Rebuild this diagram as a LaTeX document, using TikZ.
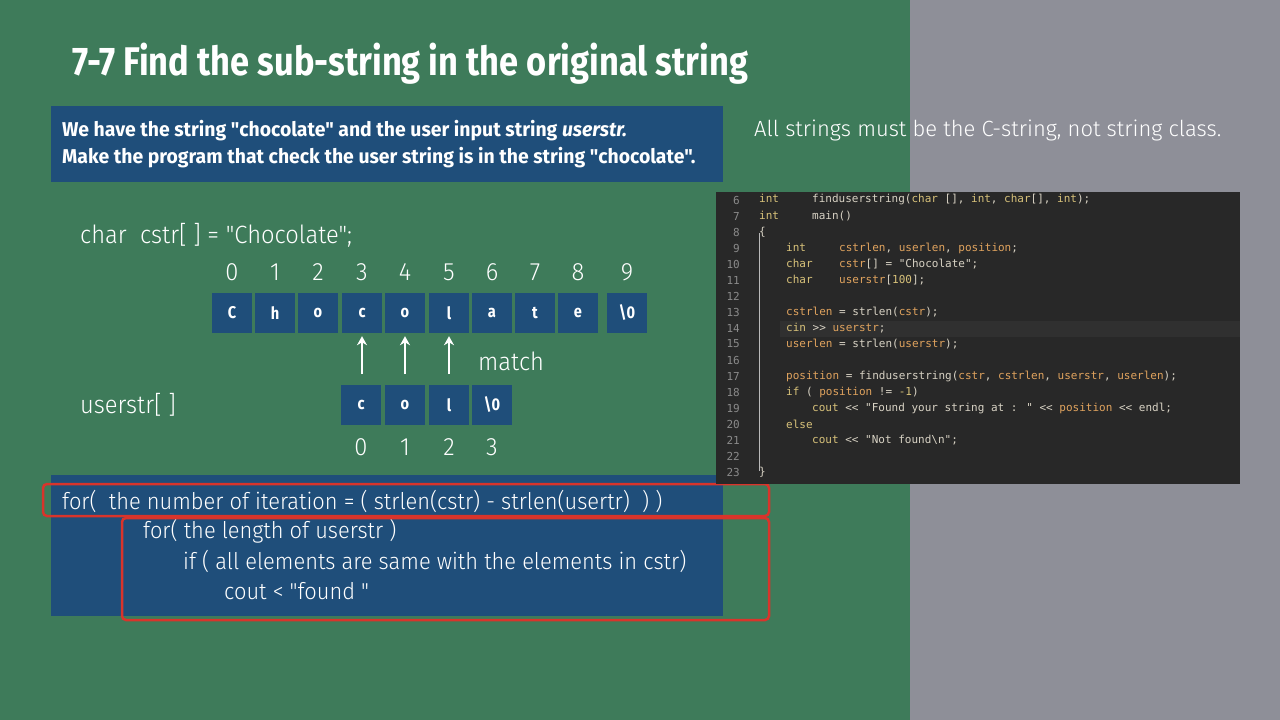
\documentclass[tikz,border=0pt]{standalone}
\usetikzlibrary{arrows.meta}
\usepackage{fontspec}
\setmainfont{Fira Sans}
\newfontfamily\cond[FakeStretch=0.86]{Fira Sans}
\newfontfamily\condb[FakeStretch=0.97]{Fira Sans}
\newfontfamily\light[FakeStretch=0.95]{Fira Sans Light}
\newfontfamily\lightw{Fira Sans Light}
\newfontfamily\codef{DejaVu Sans Mono}
\definecolor{bgg}{HTML}{3E7B5A}
\definecolor{bgr}{HTML}{8E8F98}
\definecolor{bl}{HTML}{1F4E7A}
\definecolor{cd}{HTML}{282828}
\definecolor{kw}{HTML}{D8C27A}
\definecolor{idn}{HTML}{E0A35E}
\definecolor{pl}{HTML}{D8D2C4}
\definecolor{ln}{HTML}{8A8A8A}
\definecolor{rd}{HTML}{D9342B}
\tikzset{x=1pt,y=-1pt,
 cell/.style={fill=bl,text=white,minimum width=40pt,minimum height=40pt,font=\cond\bfseries\fontsize{17}{17}\selectfont,inner sep=0},
 idx/.style={text=white,font=\light\fontsize{25}{25}\selectfont},
 wt/.style={text=white,anchor=west,inner sep=0},
 cl/.style={anchor=west,inner sep=0,font=\codef\fontsize{11}{11}\selectfont,text=pl},
 lnum/.style={anchor=east,inner sep=0,font=\codef\fontsize{11}{11}\selectfont,text=ln}}
\begin{document}
\begin{tikzpicture}
\useasboundingbox (0,0) rectangle (1280,720);
\fill[bgg] (0,0) rectangle (910,720);
\fill[bgr] (910,0) rectangle (1280,720);
\node[wt,font=\cond\bfseries\fontsize{40}{40}\selectfont] (title) at (72,64) {7-7 Find the sub-string in the original string};
\fill[bl] (51,106) rectangle (723,182);
\node[wt,font=\condb\bfseries\fontsize{20}{20}\selectfont] (t1) at (62,131) {We have the string "chocolate" and the user input string \textit{userstr.}};
\node[wt,font=\condb\bfseries\fontsize{20}{20}\selectfont] (t2) at (62,158) {Make the program that check the user string is in the string "chocolate".};
\node[wt,font=\lightw\fontsize{22}{22}\selectfont,text=white] (note) at (754,130) {All strings must be the C-string, not string class.};
\node[wt,font=\light\fontsize{25}{25}\selectfont] (decl) at (80,235) {char\ \ cstr[ ] = "Chocolate";};
\foreach \x/\c/\i [count=\k from 0] in {232/C/0,275/h/1,318/o/2,362/c/3,405/o/4,449/l/5,492/a/6,535/t/7,578/e/8,627/\textbackslash0/9}{
 \node[cell] (c\k) at (\x,313) {\c};
 \node[idx] (i\k) at (\x,272) {\i};
}
\foreach \x/\c/\i [count=\k from 0] in {361/c/0,405/o/1,449/l/2,492/\textbackslash0/3}{
 \node[cell] (u\k) at (\x,405) {\c};
 \node[idx] (j\k) at (\x,447) {\i};
}
\foreach \k in {3,4,5}{
 \draw[white,line width=2.5pt,-{Stealth[length=9pt,width=10pt]}] ([yshift=-41pt]c\k.south) -- ([yshift=-3pt]c\k.south);
}
\node[wt,font=\light\fontsize{25}{25}\selectfont] (match) at (478,361) {match};
\node[wt,font=\light\fontsize{25}{25}\selectfont] (us) at (80,405) {userstr[ ]};
\fill[bl] (51,475) rectangle (723,616);
\node[wt,font=\light\fontsize{23}{23}\selectfont] (f1) at (62,501) {for(\ \ the number of iteration = ( strlen(cstr) - strlen(usertr)\ \ ) )};
\node[wt,font=\light\fontsize{23}{23}\selectfont] (f2) at (143,531) {for( the length of userstr )};
\node[wt,font=\light\fontsize{23}{23}\selectfont] (f3) at (183,561) {if ( all elements are same with the elements in cstr)};
\node[wt,font=\light\fontsize{23}{23}\selectfont] (f4) at (224,591) {cout < "found "};
\draw[rd,line width=2.5pt,rounded corners=4pt] (43,484) rectangle (769,516);
\draw[rd,line width=2.5pt,rounded corners=4pt] (122,518) rectangle (769,620);
\fill[cd] (716,192) rectangle (1240,484);
\fill[white,opacity=0.04] (780,321) rectangle (1240,337);
\draw[ln!60] (759,233) -- (759,471);
\foreach \n [count=\r from 0] in {6,...,23}{ \node[lnum] (n\n) at (740,200+16*\r) {\n}; }
\node[cl] (l6) at (759,200) {\textcolor{kw}{int}\ \ \ \ \ finduserstring(\textcolor{kw}{char} [], \textcolor{kw}{int}, \textcolor{kw}{char}[], \textcolor{kw}{int});};
\node[cl] (l7) at (759,216) {\textcolor{kw}{int}\ \ \ \ \ main()};
\node[cl] (l8) at (759,232) {\{};
\node[cl] (l9) at (786,248) {\textcolor{kw}{int}\ \ \ \ \ \textcolor{idn}{cstrlen}, \textcolor{idn}{userlen}, \textcolor{idn}{position};};
\node[cl] (l10) at (786,264) {\textcolor{kw}{char}\ \ \ \ \textcolor{idn}{cstr}[] = "Chocolate";};
\node[cl] (l11) at (786,280) {\textcolor{kw}{char}\ \ \ \ \textcolor{idn}{userstr}[\textcolor{kw}{100}];};
\node[cl] (l13) at (786,312) {\textcolor{idn}{cstrlen} = strlen(\textcolor{idn}{cstr});};
\node[cl] (l14) at (786,328) {\textcolor{kw}{cin} >> \textcolor{idn}{userstr};};
\node[cl] (l15) at (786,344) {\textcolor{idn}{userlen} = strlen(\textcolor{idn}{userstr});};
\node[cl] (l17) at (786,376) {\textcolor{idn}{position} = finduserstring(\textcolor{idn}{cstr}, \textcolor{idn}{cstrlen}, \textcolor{idn}{userstr}, \textcolor{idn}{userlen});};
\node[cl] (l18) at (786,392) {\textcolor{kw}{if} ( \textcolor{idn}{position} != \textcolor{kw}{-1})};
\node[cl] (l19) at (812,408) {\textcolor{kw}{cout} << "Found your string at : " << \textcolor{idn}{position} << endl;};
\node[cl] (l20) at (786,424) {\textcolor{kw}{else}};
\node[cl] (l21) at (812,440) {\textcolor{kw}{cout} << "Not found\textbackslash n";};
\node[cl] (l23) at (759,472) {\}};
\end{tikzpicture}
\end{document}
